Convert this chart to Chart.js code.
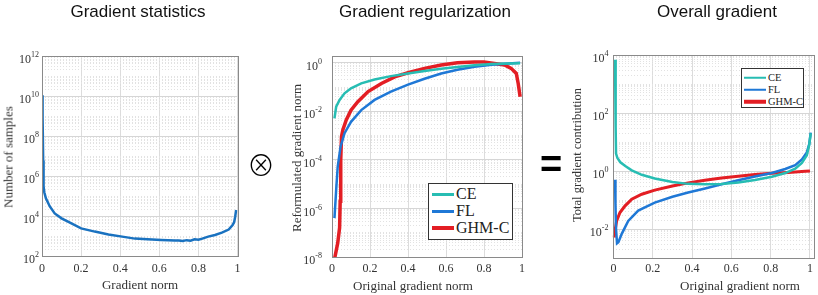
<!DOCTYPE html>
<html lang="en">
<head>
<meta charset="UTF-8">
<title>Gradient statistics</title>
<style>
    body {
        margin: 0;
        background: #fff;
        width: 818px;
        height: 295px;
        position: relative;
        overflow: hidden;
    }
    canvas {
        position: absolute;
        left: 0;
        top: 0;
    }
    .title, .xlab, .ylab, .op {
        position: absolute;
        white-space: nowrap;
        line-height: 1;
    }
    .title {
        font-family: "Liberation Sans", Arial, sans-serif;
        font-size: 17px;
        color: #111;
        transform: translate(-50%, -50%);
    }
    .xlab, .ylab {
        font-family: "Liberation Serif", "Times New Roman", serif;
        font-size: 13px;
        color: #333;
    }
    .xlab { transform: translate(-50%, -50%); }
    .ylab { transform: translate(-50%, -50%) rotate(-90deg); }
    .op { transform: translate(-50%, -50%); color: #000; }
    .legend {
        position: absolute;
        background: #fff;
        border: 1px solid #333;
        box-sizing: border-box;
        font-family: "Liberation Serif", "Times New Roman", serif;
        color: #222;
    }
    .legend .item {
        position: absolute;
        display: flex;
        align-items: center;
        line-height: 1;
    }
    .legend .ln { display: inline-block; }
</style>
</head>
<body>
<canvas id="statChart" width="818" height="295"></canvas>
<canvas id="regChart" width="818" height="295"></canvas>
<canvas id="totChart" width="818" height="295"></canvas>

<div class="title" style="left:138px; top:11px;">Gradient statistics</div>
<div class="title" style="left:425px; top:11px;">Gradient regularization</div>
<div class="title" style="left:717px; top:11px;">Overall gradient</div>

<div class="xlab" style="left:140px; top:284px;">Gradient norm</div>
<div class="xlab" style="left:413px; top:285px;">Original gradient norm</div>
<div class="xlab" style="left:740px; top:285px;">Original gradient norm</div>

<div class="ylab" style="left:8px; top:157px;">Number of samples</div>
<div class="ylab" style="left:296px; top:158px;">Reformulated gradient norm</div>
<div class="ylab" style="left:577px; top:155px; font-size:12.5px;">Total gradient contribution</div>

<div class="op" style="left:261px; top:164px; font-family:'Noto Sans CJK JP', 'DejaVu Sans'; font-weight:300; font-size:28px;">&#8855;</div>
<div class="op" style="left:551px; top:164px; font-family:'Liberation Sans'; font-weight:bold; font-size:38px;">=</div>

<div class="legend" id="regLegend" style="left:428px; top:183px; width:85px; height:57px;"></div>
<div class="legend" id="totLegend" style="left:741px; top:68px; width:63px; height:40px;"></div>

<script src="https://cdn.jsdelivr.net/npm/chart.js"></script>
<script>
    // 共通
    const seriesNames = ['CE', 'FL', 'GHM-C'];
    const seriesColors = ['#27bdb3', '#1f78d6', '#e31e24'];
    const xTicks = [0, 0.2, 0.4, 0.6, 0.8, 1];

    // Gradient statistics
    const statX = [0.001, 0.003, 0.006, 0.008, 0.012, 0.02, 0.04, 0.065, 0.1, 0.133, 0.2, 0.27, 0.34, 0.41, 0.475, 0.54, 0.61, 0.68, 0.7, 0.72, 0.74, 0.76, 0.78, 0.8, 0.82, 0.85, 0.885, 0.92, 0.955, 0.975, 0.983, 0.988, 0.993];
    const statY = [1.1e10, 9e8, 6e6, 3e5, 1.5e5, 7.6e4, 3.0e4, 1.35e4, 7.6e3, 5.2e3, 2.4e3, 1.66e3, 1.2e3, 9.3e2, 7.4e2, 6.8e2, 6.3e2, 6.0e2, 5.9e2, 5.6e2, 6.2e2, 5.8e2, 6.8e2, 6.5e2, 7.4e2, 9.3e2, 1.12e3, 1.48e3, 2.1e3, 3.5e3, 5e3, 9e3, 2e4];
    const statYExp = [2, 4, 6, 8, 10, 12];

    // Gradient regularization
    const ceRegX = [0.013, 0.022, 0.04, 0.066, 0.1, 0.154, 0.224, 0.31, 0.4, 0.487, 0.575, 0.66, 0.75, 0.84, 0.93, 0.99];
    const ceRegY = [5.1e-3, 1.55e-2, 2.95e-2, 5.5e-2, 8.9e-2, 0.141, 0.204, 0.282, 0.363, 0.457, 0.562, 0.676, 0.794, 0.891, 0.933, 0.955];
    const flRegX = [0.013, 0.022, 0.03, 0.045, 0.066, 0.1, 0.154, 0.224, 0.31, 0.4, 0.487, 0.575, 0.66, 0.75, 0.84, 0.93, 0.99];
    const flRegY = [4e-7, 5.8e-6, 5.2e-5, 3.5e-4, 1.26e-3, 3.7e-3, 1.12e-2, 2.95e-2, 6.5e-2, 0.126, 0.219, 0.363, 0.513, 0.692, 0.832, 0.933, 1.0];
    const ghmRegX = [0.013, 0.03, 0.04, 0.043, 0.046, 0.05, 0.057, 0.075, 0.1, 0.136, 0.19, 0.26, 0.33, 0.4, 0.487, 0.575, 0.66, 0.75, 0.8, 0.855, 0.908, 0.943, 0.97, 0.98, 0.99];
    const ghmRegY = [8e-9, 3.7e-8, 1.6e-7, 2e-6, 1e-4, 9e-4, 1.7e-3, 4.4e-3, 1.12e-2, 2.5e-2, 6.5e-2, 0.141, 0.263, 0.389, 0.589, 0.813, 1.0, 1.07, 1.07, 0.933, 0.813, 0.589, 0.363, 0.141, 0.04];
    const regYExp = [-8, -6, -4, -2, 0];

    // Overall gradient
    const ceTotX = [0.008, 0.011, 0.013, 0.02, 0.035, 0.06, 0.093, 0.144, 0.21, 0.3, 0.38, 0.465, 0.55, 0.635, 0.72, 0.806, 0.874, 0.925, 0.959, 0.984, 0.996, 1.004];
    const ceTotY = [6.9e3, 32, 4.0, 2.8, 2.0, 1.48, 1.05, 0.74, 0.55, 0.42, 0.36, 0.35, 0.355, 0.4, 0.49, 0.63, 0.85, 1.2, 1.9, 3.5, 7.9, 20];
    const flTotX = [0.008, 0.01, 0.013, 0.018, 0.025, 0.042, 0.075, 0.126, 0.21, 0.3, 0.38, 0.466, 0.55, 0.635, 0.72, 0.806, 0.874, 0.925, 0.959, 0.984, 0.996, 1.004];
    const flTotY = [0.5, 0.079, 0.01, 3.2e-3, 3.5e-3, 6.8e-3, 1.9e-2, 4.3e-2, 8.1e-2, 0.129, 0.182, 0.25, 0.35, 0.48, 0.65, 0.85, 1.17, 1.58, 2.5, 4.4, 8.3, 21];
    const ghmTotX = [0.003, 0.008, 0.016, 0.033, 0.059, 0.093, 0.144, 0.21, 0.3, 0.38, 0.465, 0.55, 0.635, 0.72, 0.806, 0.89, 0.976, 1.0];
    const ghmTotY = [5.1e-3, 8.7e-3, 1.9e-2, 3.7e-2, 6.3e-2, 0.107, 0.158, 0.219, 0.302, 0.389, 0.479, 0.575, 0.661, 0.759, 0.832, 0.891, 0.977, 1.0];
    const totYExp = [-2, 0, 2, 4];

    function pts(xs, ys) {
        return xs.map((x, i) => ({ x: x, y: ys[i] }));
    }

    function isMajor(v, exps) {
        return exps.some(e => Math.abs(Math.log10(v) - e) < 1e-6);
    }

    // 目盛りラベル (10 + 指数)
    const tickLabels = {
        id: 'tickLabels',
        afterDraw(chart, args, opts) {
            const ctx = chart.ctx;
            const xs = chart.scales.x, ys = chart.scales.y;
            ctx.save();
            ctx.fillStyle = '#333';
            ctx.textBaseline = 'middle';
            ctx.textAlign = 'center';
            ctx.font = '12px "Liberation Serif"';
            xTicks.forEach(v => ctx.fillText(String(v), xs.getPixelForValue(v), opts.xLabelY));
            const right = chart.chartArea.left - opts.yGap;
            opts.yExp.forEach(e => {
                const y = ys.getPixelForValue(Math.pow(10, e));
                const exp = e < 0 ? '-' + (-e) : String(e);
                ctx.textAlign = 'right';
                ctx.font = '8px "Liberation Serif"';
                const ew = ctx.measureText(exp).width;
                ctx.fillText(exp, right, y - 1);
                ctx.font = '12px "Liberation Serif"';
                ctx.fillText('10', right - ew, y + 4);
            });
            ctx.restore();
        }
    };

    // 枠線
    const boxPlugin = {
        id: 'box',
        afterDatasetsDraw(chart) {
            const a = chart.chartArea, ctx = chart.ctx;
            ctx.save();
            ctx.strokeStyle = '#8a8a8a';
            ctx.lineWidth = 1;
            ctx.strokeRect(Math.round(a.left) + 0.5, Math.round(a.top) + 0.5, Math.round(a.right - a.left), Math.round(a.bottom - a.top));
            ctx.restore();
        }
    };

    function makeChart(id, area, xr, yr, yExp, yGap, datasets) {
        return new Chart(document.getElementById(id), {
            type: 'line',
            data: { datasets: datasets },
            options: {
                responsive: false,
                animation: false,
                events: [],
                layout: {
                    padding: { left: area[0], top: area[1], right: 818 - area[2], bottom: 295 - area[3] }
                },
                elements: { point: { radius: 0 }, line: { tension: 0 } },
                plugins: {
                    legend: { display: false },
                    tooltip: { enabled: false },
                    tickLabels: { yExp: yExp, yGap: yGap, xLabelY: 269 }
                },
                scales: {
                    x: {
                        type: 'linear',
                        min: xr[0],
                        max: xr[1],
                        afterBuildTicks: s => { s.ticks = xTicks.map(v => ({ value: v })); },
                        ticks: { display: false },
                        grid: { color: '#dcdcdc', lineWidth: 1, drawTicks: false },
                        border: { display: false }
                    },
                    y: {
                        type: 'logarithmic',
                        min: yr[0],
                        max: yr[1],
                        afterBuildTicks: s => {
                            const t = [];
                            const lo = Math.floor(Math.log10(s.min)), hi = Math.ceil(Math.log10(s.max));
                            for (let e = lo; e <= hi; e++) {
                                for (let m = 1; m < 10; m++) {
                                    const v = m * Math.pow(10, e);
                                    if (v >= s.min * 0.999 && v <= s.max * 1.001) t.push({ value: v });
                                }
                            }
                            s.ticks = t;
                        },
                        ticks: { display: false },
                        grid: {
                            drawTicks: false,
                            lineWidth: 1,
                            color: c => (c.tick && isMajor(c.tick.value, yExp)) ? '#d6d6d6' : '#e2e2e2'
                        },
                        border: {
                            display: false,
                            dash: c => (c.tick && isMajor(c.tick.value, yExp)) ? [] : [1, 2]
                        }
                    }
                }
            },
            plugins: [tickLabels, boxPlugin]
        });
    }

    makeChart('statChart', [42, 56, 237.5, 256], [0, 1], [1e2, 1e12], statYExp, 3, [{
        data: pts(statX, statY),
        borderColor: '#1a72c0',
        borderWidth: 2.5
    }]);

    makeChart('regChart', [332, 56, 522, 257], [0, 1], [1e-8, 1.9], regYExp, 10, [
        { data: pts(ceRegX, ceRegY), borderColor: seriesColors[0], borderWidth: 2.5 },
        { data: pts(flRegX, flRegY), borderColor: seriesColors[1], borderWidth: 2.5 },
        { data: pts(ghmRegX, ghmRegY), borderColor: seriesColors[2], borderWidth: 3.5 }
    ]);

    makeChart('totChart', [612.5, 55, 813.5, 258], [-0.005, 1.018], [1e-3, 1e4], totYExp, 4, [
        { data: pts(ceTotX, ceTotY), borderColor: seriesColors[0], borderWidth: 2.5 },
        { data: pts(flTotX, flTotY), borderColor: seriesColors[1], borderWidth: 2.5 },
        { data: pts(ghmTotX, ghmTotY), borderColor: seriesColors[2], borderWidth: 3 }
    ]);

    // 凡例
    function buildLegend(id, fontSize, lineLen, widths, tops, left) {
        const box = document.getElementById(id);
        seriesNames.forEach((name, i) => {
            const item = document.createElement('div');
            item.className = 'item';
            item.style.left = left + 'px';
            item.style.top = tops[i] + 'px';
            item.style.fontSize = fontSize + 'px';
            item.style.transform = 'translateY(-50%)';
            const ln = document.createElement('span');
            ln.className = 'ln';
            ln.style.width = lineLen + 'px';
            ln.style.height = widths[i] + 'px';
            ln.style.background = seriesColors[i];
            ln.style.marginRight = '2px';
            item.appendChild(ln);
            item.appendChild(document.createTextNode(name));
            box.appendChild(item);
        });
    }

    buildLegend('regLegend', 16, 22, [3, 3, 4], [10, 27, 44], 3);
    buildLegend('totLegend', 10.5, 22, [2.5, 2.5, 3.5], [8.5, 20.5, 32.5], 2);
</script>
</body>
</html>
